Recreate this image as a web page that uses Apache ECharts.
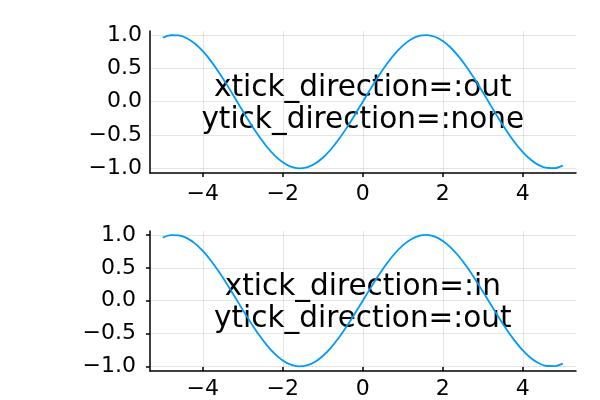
<!DOCTYPE html>
<html>
<head>
<meta charset="utf-8">
<script src="https://cdn.jsdelivr.net/npm/echarts@6/dist/echarts.min.js"></script>
<style>html,body{margin:0;padding:0;background:#fff}#c{width:600px;height:400px}</style>
</head>
<body>
<div id="c"></div>
<script>
// x sample points and y = sin(x) values
const xValues = [-5.0,-4.8,-4.6,-4.4,-4.2,-4.0,-3.8,-3.6,-3.4,-3.2,-3.0,-2.8,-2.6,-2.4,-2.2,-2.0,-1.8,-1.6,-1.4,-1.2,-1.0,-0.8,-0.6,-0.4,-0.2,0.0,0.2,0.4,0.6,0.8,1.0,1.2,1.4,1.6,1.8,2.0,2.2,2.4,2.6,2.8,3.0,3.2,3.4,3.6,3.8,4.0,4.2,4.4,4.6,4.8,5.0];
const yValues = [0.9589,0.9962,0.9937,0.9516,0.8716,0.7568,0.6119,0.4425,0.2555,0.0584,-0.1411,-0.3350,-0.5155,-0.6755,-0.8085,-0.9093,-0.9738,-0.9996,-0.9854,-0.9320,-0.8415,-0.7174,-0.5646,-0.3894,-0.1987,0.0,0.1987,0.3894,0.5646,0.7174,0.8415,0.9320,0.9854,0.9996,0.9738,0.9093,0.8085,0.6755,0.5155,0.3350,0.1411,-0.0584,-0.2555,-0.4425,-0.6119,-0.7568,-0.8716,-0.9516,-0.9937,-0.9962,-0.9589];
const xTicks = [-4,-2,0,2,4];
const xTickLabels = ['\u22124','\u22122','0','2','4'];
const yTicks = [-1,-0.5,0,0.5,1];
const yTickLabels = ['\u22121.0','\u22120.5','0.0','0.5','1.0'];
const annotations = [
  ['xtick_direction=:out','ytick_direction=:none'],
  ['xtick_direction=:in','ytick_direction=:out']
];
const annotationPoint = [0, 0];

const FONT = 'DejaVu Sans';
const lineData = xValues.map((x,i)=>[x, yValues[i]]);
const xFmt = v => { const i = xTicks.indexOf(v); return i >= 0 ? xTickLabels[i] : ''; };
const yFmt = v => { const i = yTicks.indexOf(v); return i >= 0 ? yTickLabels[i] : ''; };
const grid = 'rgba(0,0,0,0.1)';

function xAxis(idx, tickInside, labelMargin){
  return {
    type:'value', gridIndex: idx, min:-5.32, max:5.33,
    axisLine:{show:true, onZero:false, lineStyle:{color:'#000', width:1.5}},
    axisTick:{show:true, inside: tickInside, length:4, customValues:xTicks, lineStyle:{color:'#000', width:1.5}},
    axisLabel:{customValues:xTicks, formatter:xFmt, color:'#000', fontFamily:FONT, fontSize:22, margin:labelMargin},
    splitLine:{show:true, lineStyle:{color:grid, width:1}}
  };
}
function yAxis(idx, tickShow, labelMargin){
  return {
    type:'value', gridIndex: idx, min:-1.07, max:1.06,
    axisLine:{show:true, onZero:false, lineStyle:{color:'#000', width:1.5}},
    axisTick:{show:tickShow, inside:false, length:4, customValues:yTicks, lineStyle:{color:'#000', width:1.5}},
    axisLabel:{customValues:yTicks, formatter:yFmt, color:'#000', fontFamily:FONT, fontSize:22, margin:labelMargin},
    splitLine:{show:true, lineStyle:{color:grid, width:1}}
  };
}
function annSeries(idx){
  return {
    type:'scatter', xAxisIndex:idx, yAxisIndex:idx, data:[annotationPoint],
    symbolSize:1, itemStyle:{color:'rgba(0,0,0,0)'}, silent:true, z:1,
    label:{show:true, position:'inside', offset:[0,3], formatter: annotations[idx].join('\n'),
      color:'#000', opacity:1, textBorderWidth:0, fontFamily:FONT, fontSize:29.5, lineHeight:32, align:'center', verticalAlign:'middle'}
  };
}
function lineSeries(idx){
  return {
    type:'line', xAxisIndex:idx, yAxisIndex:idx, data:lineData, smooth:0.3,
    showSymbol:false, lineStyle:{color:'#009AFA', width:1.8}, z:3
  };
}
const chart = echarts.init(document.getElementById('c'), null, {renderer:'canvas'});
chart.setOption({
  backgroundColor:'#fff',
  animation:false,
  grid:[
    {left:150, right:24, top:31, bottom:227, containLabel:false},
    {left:150, right:24, top:231, bottom:27, containLabel:false}
  ],
  xAxis:[xAxis(0,false,10), xAxis(1,true,7)],
  yAxis:[yAxis(0,false,8), yAxis(1,true,14)],
  series:[annSeries(0), lineSeries(0), annSeries(1), lineSeries(1)]
});
</script>
</body>
</html>
